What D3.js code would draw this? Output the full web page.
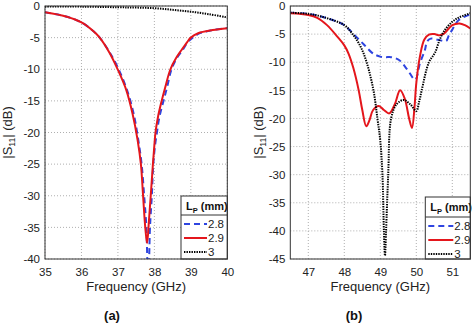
<!DOCTYPE html>
<html>
<head>
<meta charset="utf-8">
<script src="https://cdn.jsdelivr.net/npm/d3@7"></script>
<style>
  html, body { margin: 0; padding: 0; background: #fff; }
  svg { display: block; font-family: "Liberation Sans", Arial, sans-serif; }
</style>
</head>
<body>
<svg id="chart" width="474" height="323"></svg>
<script>
// Reflection coefficient |S11| (dB) versus frequency for three patch lengths L_P
const seriesNames = ["2.8", "2.9", "3"];

// Panel (a): 35–40 GHz band
const freqA_28 = [35, 35.6, 36, 36.33, 36.5, 36.78, 37.02, 37.25, 37.43, 37.56, 37.65, 37.72, 37.78, 37.83, 37.88, 37.93, 37.97, 38.02, 38.07, 38.14, 38.25, 38.35, 38.47, 38.62, 38.77, 38.92, 39.05, 39.25, 39.6, 40];
const valsA_28 = [-1.0, -1.7, -2.6, -4.0, -5.0, -7.4, -10.0, -13.3, -17.0, -21.2, -25, -30, -35, -45, -35, -30, -25, -22, -20, -17.5, -15, -12.8, -10, -8.2, -7.0, -5.7, -5.0, -4.3, -3.8, -3.5];
const freqA_29 = [35, 35.6, 36, 36.33, 36.5, 36.78, 37.0, 37.23, 37.4, 37.54, 37.63, 37.69, 37.75, 37.8, 37.85, 37.9, 37.96, 38.0, 38.03, 38.1, 38.2, 38.3, 38.44, 38.6, 38.74, 38.9, 39.0, 39.2, 39.6, 40];
const valsA_29 = [-1.0, -1.7, -2.6, -4.0, -5.0, -7.5, -10.1, -13.3, -17.0, -21.2, -25, -30, -35, -37.5, -34, -30, -25, -22, -20, -17.5, -15, -12.8, -10, -8.2, -7.0, -5.7, -5.0, -4.3, -3.8, -3.5];
const freqA_30 = [35, 36, 37, 37.5, 38, 38.5, 39, 39.5, 40];
const valsA_30 = [-0.1, -0.1, -0.2, -0.25, -0.35, -0.6, -0.9, -1.3, -1.8];

// Panel (b): 46.5–51.5 GHz band
const freqB_28 = [46.5, 47, 47.43, 47.8, 48, 48.26, 48.55, 48.75, 48.87, 49.0, 49.15, 49.3, 49.52, 49.75, 49.97, 50.1, 50.24, 50.3, 50.4, 50.6, 50.83, 50.9, 51.0, 51.18, 51.45, 51.5];
const valsB_28 = [-1.2, -1.4, -2.0, -2.8, -3.4, -5.0, -6.9, -8.2, -8.7, -9.0, -9.1, -9.1, -9.6, -11.3, -13.1, -10.2, -7.8, -6.3, -5.8, -6.0, -6.2, -5.3, -4.2, -2.5, -1.6, -1.5];
const freqB_29 = [46.5, 47, 47.25, 47.52, 47.8, 48.0, 48.12, 48.25, 48.4, 48.5, 48.61, 48.7, 48.8, 48.96, 49.1, 49.25, 49.4, 49.55, 49.68, 49.8, 49.88, 49.95, 50.0, 50.1, 50.22, 50.35, 50.5, 50.65, 50.77, 51.0, 51.2, 51.35, 51.5];
const valsB_29 = [-1.3, -1.6, -2.1, -3.4, -5.4, -7.0, -8.5, -11, -15, -18.5, -21.4, -20.3, -18.5, -17.8, -18.5, -19.1, -17.5, -15.0, -16.5, -20, -21.7, -18, -13.7, -9, -6, -5.1, -5.0, -5.2, -4.9, -3.4, -3.1, -3.4, -4.0];
const freqB_30 = [46.5, 47, 47.43, 48, 48.22, 48.45, 48.62, 48.81, 48.92, 49.0, 49.06, 49.1, 49.13, 49.16, 49.22, 49.3, 49.45, 49.65, 49.85, 50.0, 50.08, 50.15, 50.35, 50.52, 50.65, 50.77, 51.0, 51.2, 51.5];
const valsB_30 = [-1.2, -1.4, -2.0, -3.4, -4.9, -7.2, -10, -15, -20, -24, -30, -40, -44.4, -40, -30, -20, -17.5, -16.7, -17.6, -18.7, -17, -15, -10, -8.3, -6.0, -4.5, -2.8, -2.0, -1.3];

// Axis ticks
const ticksXA = [35, 36, 37, 38, 39, 40];
const ticksYA = [0, -5, -10, -15, -20, -25, -30, -35, -40];
const ticksXB = [47, 48, 49, 50, 51];
const ticksYB = [0, -5, -10, -15, -20, -25, -30, -35, -40, -45];

const styles = {
  "2.8": { color: "#2f45e0", dash: "6,4", width: 2 },
  "2.9": { color: "#e4161c", dash: null, width: 2 },
  "3":   { color: "#000000", dash: "1.4,1.1", width: 2 }
};

const svg = d3.select("#chart");

function panel(cfg) {
  const x = d3.scaleLinear().domain(cfg.xDomain).range([cfg.left, cfg.right]);
  const y = d3.scaleLinear().domain(cfg.yDomain).range([cfg.bottom, cfg.top]);
  const g = svg.append("g");

  // plot background
  g.append("rect")
    .attr("x", cfg.left).attr("y", cfg.top)
    .attr("width", cfg.right - cfg.left).attr("height", cfg.bottom - cfg.top)
    .attr("fill", "#fff");

  // grid
  g.append("g").selectAll("line").data(cfg.xTicks).join("line")
    .attr("x1", d => x(d)).attr("x2", d => x(d))
    .attr("y1", cfg.top).attr("y2", cfg.bottom)
    .attr("stroke", "#9a9a9a").attr("stroke-width", 0.8).attr("stroke-dasharray", "1,2");
  g.append("g").selectAll("line").data(cfg.yTicks).join("line")
    .attr("x1", cfg.left).attr("x2", cfg.right)
    .attr("y1", d => y(d)).attr("y2", d => y(d))
    .attr("stroke", "#9a9a9a").attr("stroke-width", 0.8).attr("stroke-dasharray", "1,2");

  // axes (labels only; frame drawn separately)
  const xAxis = d3.axisBottom(x).tickValues(cfg.xTicks).tickSize(0).tickPadding(9).tickFormat(d3.format("d"));
  const yAxis = d3.axisLeft(y).tickValues(cfg.yTicks).tickSize(0).tickPadding(5).tickFormat(d => d === 0 ? "0" : String(d));
  const gx = g.append("g").attr("transform", `translate(0,${cfg.bottom})`).call(xAxis);
  const gy = g.append("g").attr("transform", `translate(${cfg.left},0)`).call(yAxis);
  [gx, gy].forEach(a => {
    a.select(".domain").remove();
    a.selectAll("text").attr("font-size", 11.5).attr("fill", "#222")
      .attr("font-family", "Liberation Sans, Arial, sans-serif");
  });

  // curves, clipped to plot area
  const clipId = "clip-" + cfg.id;
  svg.append("clipPath").attr("id", clipId).append("rect")
    .attr("x", cfg.left).attr("y", cfg.top)
    .attr("width", cfg.right - cfg.left).attr("height", cfg.bottom - cfg.top);
  const line = d3.line().x(d => x(d[0])).y(d => y(d[1])).curve(d3.curveCatmullRom.alpha(0.5));
  const cg = g.append("g").attr("clip-path", `url(#${clipId})`);
  cfg.series.forEach(s => {
    const st = styles[s.name];
    cg.append("path")
      .datum(d3.zip(s.f, s.v))
      .attr("d", line)
      .attr("fill", "none")
      .attr("stroke", st.color)
      .attr("stroke-width", st.width)
      .attr("stroke-dasharray", st.dash)
      .attr("stroke-linejoin", "round");
  });

  // legend
  const L = cfg.legend;
  const lg = g.append("g");
  lg.append("rect").attr("x", L.x).attr("y", L.y).attr("width", cfg.right - L.x).attr("height", cfg.bottom - L.y)
    .attr("fill", "#fff").attr("stroke", "#333").attr("stroke-width", 1);
  lg.append("line").attr("x1", L.x).attr("x2", cfg.right).attr("y1", L.y + L.head).attr("y2", L.y + L.head)
    .attr("stroke", "#333").attr("stroke-width", 1);
  const title = lg.append("text").attr("x", L.x + 5).attr("y", L.y + 14)
    .attr("font-size", 11).attr("font-weight", "bold").attr("fill", "#111");
  title.append("tspan").text("L");
  title.append("tspan").text("P").attr("font-size", 7.5).attr("dy", 3);
  title.append("tspan").text(" (mm)").attr("dy", -3);
  seriesNames.forEach((n, i) => {
    const st = styles[n];
    const yy = L.y + L.head + 9 + i * 14;
    lg.append("line").attr("x1", L.x + 3).attr("x2", L.x + L.sample).attr("y1", yy).attr("y2", yy)
      .attr("stroke", st.color).attr("stroke-width", st.width).attr("stroke-dasharray", st.dash);
    lg.append("text").attr("x", L.x + L.sample + 1).attr("y", yy + 4)
      .attr("font-size", 11.5).attr("fill", "#222").text(n);
  });

  // frame
  g.append("rect")
    .attr("x", cfg.left).attr("y", cfg.top)
    .attr("width", cfg.right - cfg.left).attr("height", cfg.bottom - cfg.top)
    .attr("fill", "none").attr("stroke", "#333").attr("stroke-width", 1);

  // axis titles
  const cx = (cfg.left + cfg.right) / 2;
  g.append("text").attr("x", cx).attr("y", 291).attr("text-anchor", "middle")
    .attr("font-size", 13).attr("fill", "#222").text("Frequency (GHz)");
  const yl = g.append("text")
    .attr("transform", `translate(${cfg.yLabelX},${(cfg.top + cfg.bottom) / 2}) rotate(-90)`)
    .attr("text-anchor", "middle").attr("font-size", 13).attr("fill", "#222");
  yl.append("tspan").text("|S");
  yl.append("tspan").text("11").attr("font-size", 8.5).attr("dy", 3);
  yl.append("tspan").text("| (dB)").attr("dy", -3);

  g.append("text").attr("x", cfg.capX).attr("y", 320).attr("text-anchor", "middle")
    .attr("font-size", 13).attr("font-weight", "bold").attr("fill", "#111").text(cfg.caption);
}

panel({
  id: "a", left: 45, right: 227.3, top: 6, bottom: 259,
  xDomain: [35, 40], yDomain: [-40, 0], xTicks: ticksXA, yTicks: ticksYA,
  series: [
    { name: "2.8", f: freqA_28, v: valsA_28 },
    { name: "2.9", f: freqA_29, v: valsA_29 },
    { name: "3", f: freqA_30, v: valsA_30 }
  ],
  legend: { x: 181, y: 196, head: 19, sample: 26 },
  yLabelX: 12, capX: 112, caption: "(a)"
});

panel({
  id: "b", left: 290.3, right: 470.3, top: 6, bottom: 259,
  xDomain: [46.5, 51.5], yDomain: [-45, 0], xTicks: ticksXB, yTicks: ticksYB,
  series: [
    { name: "2.8", f: freqB_28, v: valsB_28 },
    { name: "2.9", f: freqB_29, v: valsB_29 },
    { name: "3", f: freqB_30, v: valsB_30 }
  ],
  legend: { x: 425.3, y: 197, head: 20, sample: 28 },
  yLabelX: 263, capX: 354, caption: "(b)"
});
</script>
</body>
</html>
